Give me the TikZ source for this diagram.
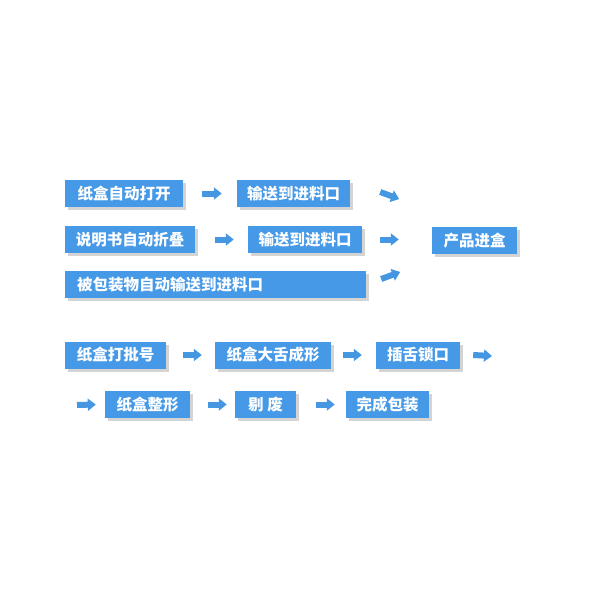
\documentclass[tikz,border=0pt]{standalone}
\usepackage{fontspec}
\newfontfamily\cjk{Noto Sans CJK SC}
\usetikzlibrary{arrows.meta,shadows}

\definecolor{boxblue}{HTML}{4699E6}
\definecolor{arrblue}{HTML}{4697E2}

\begin{document}
\begin{tikzpicture}[x=1pt, y=-1pt]
		\tikzset{bx/.style={fill=boxblue, text=white, font=\cjk\bfseries\fontsize{15.5}{17}\selectfont, minimum height=27pt, inner sep=0pt, drop shadow={shadow xshift=3pt, shadow yshift=-3pt, fill=black!17, opacity=1}}};
		\tikzset{arr/.style={draw=arrblue, line width=6pt, -{Triangle[width=12pt, length=8pt]}}};

		\useasboundingbox (0, 0) rectangle (600, 600);

		\node[bx, minimum width=118pt] (open) at (124, 193.5) {纸盒自动打开};
		\node[bx, minimum width=113pt] (feed1) at (293.5, 193.5) {输送到进料口};
		\node[bx, minimum width=130pt] (fold) at (130, 239.5) {说明书自动折叠};
		\node[bx, minimum width=114pt] (feed2) at (305, 239.5) {输送到进料口};
		\node[bx, minimum width=85pt] (into) at (474.5, 240.5) {产品进盒};
		\node[bx, text width=277pt, inner xsep=12pt, align=left] (goods) at (215.5, 284.5) {被包装物自动输送到进料口};

		\node[bx, minimum width=101pt] (batch) at (115.5, 355) {纸盒打批号};
		\node[bx, minimum width=116pt] (tongue) at (273, 355) {纸盒大舌成形};
		\node[bx, minimum width=84pt] (lock) at (418, 355) {插舌锁口};
		\node[bx, minimum width=85pt] (shape) at (147.5, 404.5) {纸盒整形};
		\node[bx, minimum width=61pt] (reject) at (265.5, 404.5) {剔\ 废};
		\node[bx, minimum width=83pt] (done) at (387.5, 404.5) {完成包装};

		\coordinate (wrap1) at (492, 356);
		\coordinate (wrap2) at (77, 405);

		\draw[arr] ([xshift=19pt]open.east) -- ([xshift=-15pt]feed1.west);
		\draw[arr] ([xshift=30pt, yshift=1.5pt]feed1.east) -- ([xshift=49pt, yshift=-5.5pt]feed1.east);

		\draw[arr] ([xshift=20pt]fold.east) -- ([xshift=-14pt]feed2.west);
		\draw[arr] ([xshift=18pt]feed2.east) -- ([xshift=-33pt]into.west |- feed2.east);

		\draw[arr] ([xshift=15pt, yshift=5.5pt]goods.east) -- ([xshift=34pt, yshift=12.5pt]goods.east);

		\draw[arr] ([xshift=17pt]batch.east) -- ([xshift=-13pt]tongue.west);
		\draw[arr] ([xshift=12pt]tongue.east) -- ([xshift=-14pt]lock.west);
		\draw[arr] ([xshift=13pt]lock.east) -- (wrap1);

		\draw[arr] (wrap2) -- ([xshift=-9pt]shape.west);
		\draw[arr] ([xshift=18pt]shape.east) -- ([xshift=-8pt]reject.west);
		\draw[arr] ([xshift=20pt]reject.east) -- ([xshift=-11pt]done.west);
	\end{tikzpicture}
\end{document}
